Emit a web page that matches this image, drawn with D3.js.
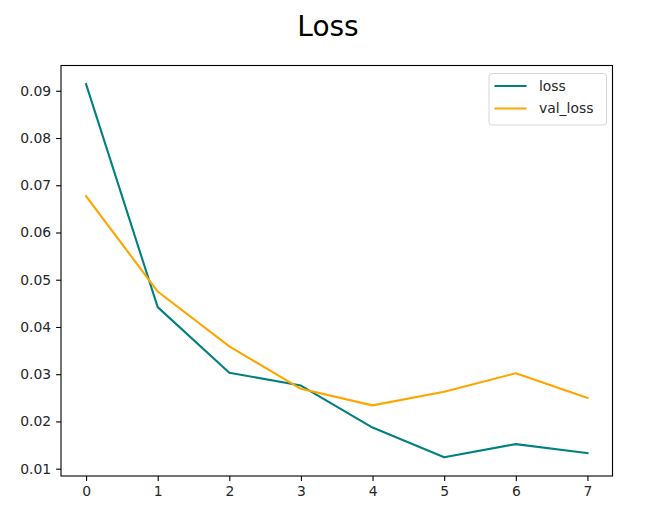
<!DOCTYPE html>
<html>
<head>
<meta charset="utf-8">
<script src="https://cdn.jsdelivr.net/npm/d3@7"></script>
<style>
  body { margin: 0; background: #fff; }
  svg { display: block; font-family: "DejaVu Sans", sans-serif; }
</style>
</head>
<body>
<svg id="chart"></svg>
<script>
// ----- Data -----
let epochs = [0, 1, 2, 3, 4, 5, 6, 7]
let loss = [0.0914, 0.0442, 0.0303, 0.0276, 0.0187, 0.0124, 0.0152, 0.0133]
let valLoss = [0.0677, 0.0475, 0.0359, 0.0269, 0.0234, 0.0263, 0.0302, 0.0250]
let xTicks = [0, 1, 2, 3, 4, 5, 6, 7]
let yTicks = [0.01, 0.02, 0.03, 0.04, 0.05, 0.06, 0.07, 0.08, 0.09]
let seriesNames = ['loss', 'val_loss']
let seriesColors = ['#008080', '#ffa500']

// SVG
let svgWidth = 648
let svgHeight = 520
let svg = d3.select('#chart')
            .attr('width', svgWidth)
            .attr('height', svgHeight)

let plot = {left: 61, top: 65.5, right: 612.5, bottom: 476}

// matplotlib style 5% margins
let xScale = d3.scaleLinear().domain([-0.35, 7.35]).range([plot.left, plot.right])
let yMin = d3.min(loss.concat(valLoss))
let yMax = d3.max(loss.concat(valLoss))
let pad = (yMax - yMin) * 0.05
let yScale = d3.scaleLinear().domain([yMin - pad, yMax + pad]).range([plot.bottom, plot.top])

// Title
svg.append('text')
   .attr('x', 328)
   .attr('y', 36)
   .attr('text-anchor', 'middle')
   .attr('font-size', '28px')
   .attr('fill', '#000')
   .text('Loss')

// Axes
let xAxis = svg.append('g')
   .attr('transform', 'translate(0,' + plot.bottom + ')')
   .call(d3.axisBottom(xScale).tickValues(xTicks).tickFormat(d3.format('d')).tickSize(4.9).tickPadding(4.9))
let yAxis = svg.append('g')
   .attr('transform', 'translate(' + plot.left + ',0)')
   .call(d3.axisLeft(yScale).tickValues(yTicks).tickFormat(d3.format('.2f')).tickSize(4.9).tickPadding(4.9))

;[xAxis, yAxis].forEach(function (ax) {
    ax.select('.domain').remove()
    ax.selectAll('line').attr('stroke', '#000').attr('stroke-width', 1.1)
    ax.selectAll('text').attr('font-size', '13.9px').attr('fill', '#262626')
        .attr('font-family', '"DejaVu Sans", sans-serif')
})

// Lines
let line = d3.line()
   .x(function (d, i) { return xScale(epochs[i]) })
   .y(function (d) { return yScale(d) })

;[loss, valLoss].forEach(function (values, k) {
    svg.append('path')
       .datum(values)
       .attr('d', line)
       .attr('fill', 'none')
       .attr('stroke', seriesColors[k])
       .attr('stroke-width', 2.1)
       .attr('stroke-linejoin', 'round')
       .attr('stroke-linecap', 'square')
})

// Frame
svg.append('rect')
   .attr('x', plot.left)
   .attr('y', plot.top)
   .attr('width', plot.right - plot.left)
   .attr('height', plot.bottom - plot.top)
   .attr('fill', 'none')
   .attr('stroke', '#000')
   .attr('stroke-width', 1.1)

// Legend
let legend = svg.append('g')
legend.append('rect')
   .attr('x', 489)
   .attr('y', 73.5)
   .attr('width', 117.5)
   .attr('height', 51.5)
   .attr('rx', 3)
   .attr('fill', '#fff')
   .attr('fill-opacity', 0.8)
   .attr('stroke', '#d6d6d6')
   .attr('stroke-width', 1)

seriesNames.forEach(function (name, k) {
    let y = 86 + k * 22.5
    legend.append('line')
       .attr('x1', 494.5).attr('x2', 526.5)
       .attr('y1', y).attr('y2', y)
       .attr('stroke', seriesColors[k])
       .attr('stroke-width', 2.1)
    legend.append('text')
       .attr('x', 539)
       .attr('y', y)
       .attr('dy', '0.35em')
       .attr('font-size', '13.9px')
       .attr('fill', '#262626')
       .text(name)
})
</script>
</body>
</html>
